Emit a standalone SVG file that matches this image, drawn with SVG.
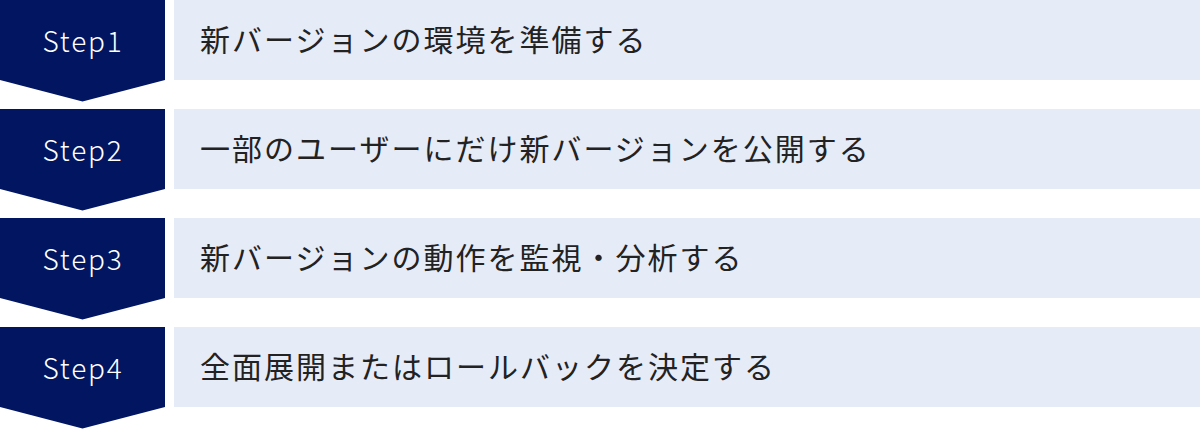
<svg xmlns="http://www.w3.org/2000/svg" width="1200" height="429" viewBox="0 0 1200 429">
<style>
.chev{fill:#011560}
.bar{fill:#E6EBF8}
.step{font-family:"Noto Sans CJK JP","Noto Sans",sans-serif;font-size:28px;font-weight:300;fill:#ffffff;letter-spacing:1.8px;text-anchor:middle}
.lbl{font-family:"Noto Sans CJK JP","Noto Sans",sans-serif;font-size:30px;fill:#222222;letter-spacing:2px}
</style>
<g id="connectors"></g>
<g id="step1">
<path class="chev" d="M0 0H165V80L82.5 101.5L0 80Z"/>
<rect class="bar" x="174" y="0" width="1026" height="80"/>
<text class="step" x="83" y="52">Step1</text>
<text class="lbl" x="200" y="51">新バージョンの環境を準備する</text>
</g>
<g id="step2">
<path class="chev" d="M0 109H165V189L82.5 210.5L0 189Z"/>
<rect class="bar" x="174" y="109" width="1026" height="80"/>
<text class="step" x="83" y="161">Step2</text>
<text class="lbl" x="200" y="160">一部のユーザーにだけ新バージョンを公開する</text>
</g>
<g id="step3">
<path class="chev" d="M0 218H165V298L82.5 319.5L0 298Z"/>
<rect class="bar" x="174" y="218" width="1026" height="80"/>
<text class="step" x="83" y="270">Step3</text>
<text class="lbl" x="200" y="269">新バージョンの動作を監視・分析する</text>
</g>
<g id="step4">
<path class="chev" d="M0 327H165V407L82.5 428.5L0 407Z"/>
<rect class="bar" x="174" y="327" width="1026" height="80"/>
<text class="step" x="83" y="379">Step4</text>
<text class="lbl" x="200" y="378">全面展開またはロールバックを決定する</text>
</g>
</svg>
